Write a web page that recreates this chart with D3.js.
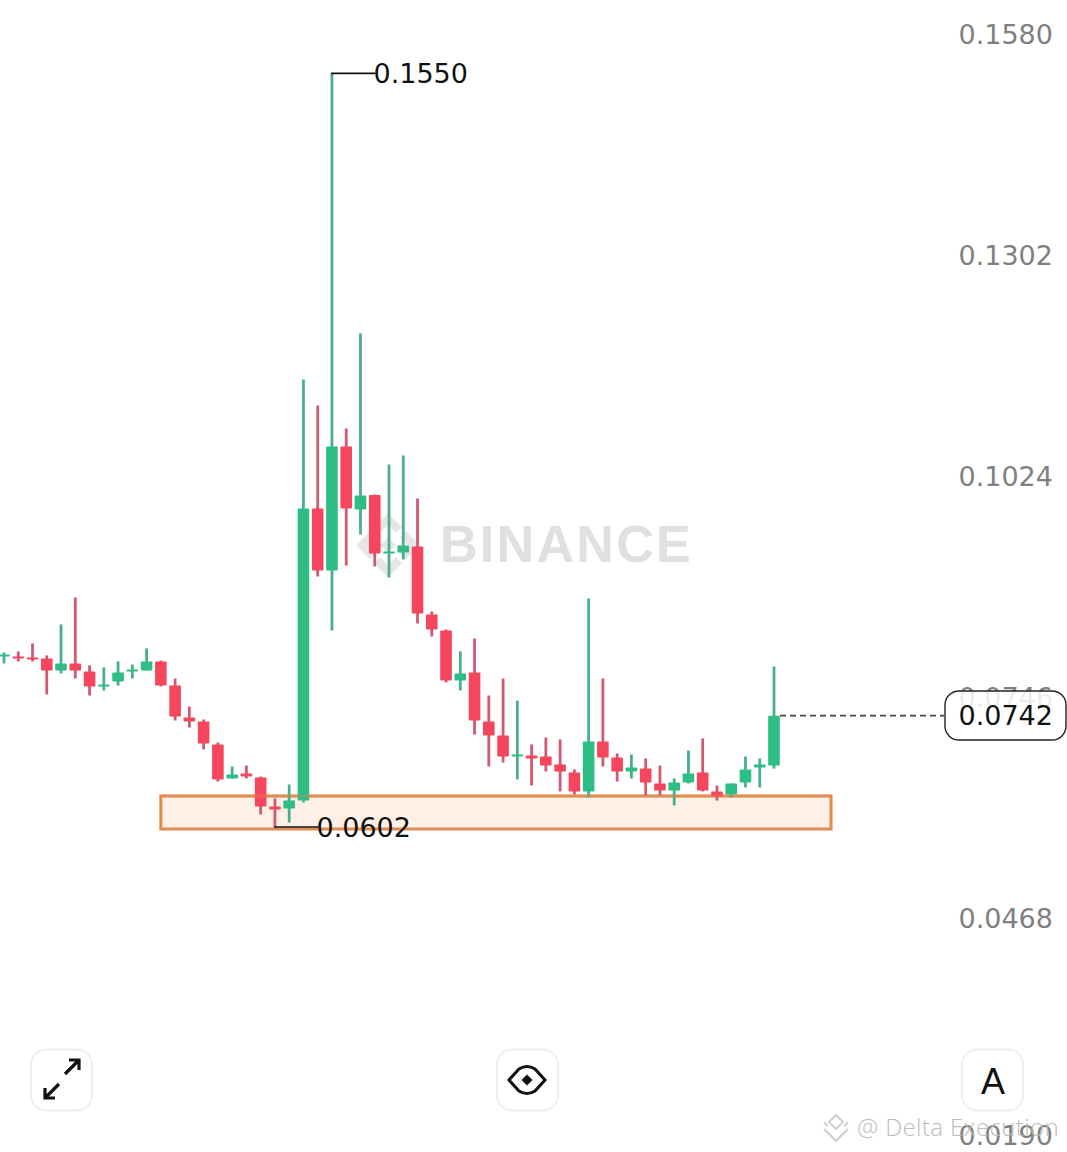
<!DOCTYPE html>
<html><head><meta charset="utf-8">
<script src="https://cdn.jsdelivr.net/npm/d3@7/dist/d3.min.js"></script>
<style>html,body{margin:0;padding:0;background:#fff}svg{display:block}text{font-family:"DejaVu Sans",sans-serif}</style>
</head><body><svg id="c" width="1067" height="1152"></svg>
<script>
const opens=[.08165,.08165,.08152,.08140,.07988,.08077,.07976,.07787,.07850,.07976,.07988,.08102,.07800,.07397,.07347,.07058,.06630,.06693,.06642,.06277,.06252,.06353,.10026,.09246,.10806,.10014,.10196,.09460,.09473,.09548,.08693,.08492,.07863,.07963,.07347,.07171,.06907,.06919,.06907,.06806,.06705,.06467,.07095,.06894,.06718,.06755,.06567,.06479,.06579,.06705,.06467,.06429,.06579,.06768,.06793];
const closes=[.08190,.08140,.08127,.07988,.08077,.07988,.07787,.07812,.07963,.08001,.08102,.07800,.07410,.07347,.07070,.06617,.06680,.06655,.06277,.06240,.06353,.10026,.09246,.10806,.10026,.10190,.09460,.09485,.09561,.08706,.08504,.07863,.07951,.07359,.07171,.06907,.06932,.06882,.06793,.06718,.06467,.07095,.06894,.06718,.06768,.06579,.06479,.06579,.06693,.06479,.06404,.06567,.06743,.06806,.07420];
const highs=[.08215,.08228,.08329,.08178,.08568,.08907,.08052,.08027,.08102,.08064,.08266,.08114,.07888,.07536,.07372,.07083,.06781,.06793,.06655,.06379,.06555,.11649,.11322,.15500,.11033,.12228,.10202,.10580,.10693,.10152,.08731,.08504,.08228,.08391,.07674,.07888,.07611,.07058,.07146,.07121,.06743,.08895,.07888,.06945,.06932,.06882,.06793,.06630,.06982,.07133,.06542,.06567,.06907,.06882,.08039];
const lows=[.08077,.08102,.08102,.07687,.07951,.07888,.07674,.07737,.07800,.07888,.07988,.07787,.07359,.07271,.06995,.06592,.06630,.06630,.06177,.06020,.06077,.06328,.09171,.08492,.09309,.09699,.09297,.09158,.09385,.08580,.08416,.07838,.07737,.07183,.06781,.06831,.06617,.06542,.06718,.06467,.06429,.06391,.06781,.06592,.06630,.06416,.06416,.06290,.06567,.06467,.06353,.06391,.06517,.06517,.06755];
const tickValues=[.1580,.1302,.1024,.0746,.0468,.0190];
const highLabel=.1550, lowLabel=.0602, lastPrice=.0742;
const zoneTop=.06416, zoneBottom=.06001;
const GREEN="#2ebd85",RED="#f6465d",GREENW="#47b08b",REDW="#cf5a72";

const svg=d3.select("#c");
const x=d3.scaleLinear().domain([0,54]).range([4,774]);
const y=d3.scaleLinear().domain([.158,.019]).range([49.5,1154.5]);
const fmt=d3.format(".4f");
const idx=d3.range(opens.length);

// watermark
const wm=svg.append("g");
const lg=wm.append("g").attr("transform","translate(388,545)").attr("fill","#e6e6e6");
lg.append("path").attr("d","M0,-8L8,0L0,8L-8,0Z");
[0,90,180,270].forEach(a=>lg.append("path").attr("transform",`rotate(${a})`)
  .attr("d","M0,-32L14,-18L8,-12L0,-20L-8,-12L-14,-18Z"));
[0,90,180,270].forEach(a=>lg.append("path").attr("transform",`rotate(${a}) translate(25,0)`)
  .attr("d","M0,-6L6,0L0,6L-6,0Z"));
wm.append("text").attr("x",440).attr("y",562).attr("font-size",52).attr("font-weight",700)
  .style("font-family","'Liberation Sans'").attr("letter-spacing",2.3).attr("fill","#e0e0e0").text("BINANCE");

// zone
svg.append("rect").attr("x",x(11)).attr("y",y(zoneTop)+.5).attr("width",x(58)-x(11)).attr("height",y(zoneBottom)-y(zoneTop))
  .attr("fill","#fdf0e6").attr("stroke","#e08b4f").attr("stroke-width",3);

// candles
const g=svg.append("g").selectAll("g").data(idx).join("g");
g.append("line").attr("x1",i=>x(i)).attr("x2",i=>x(i)).attr("y1",i=>y(highs[i])).attr("y2",i=>y(lows[i]))
  .attr("stroke-width",2.8).attr("stroke",i=>closes[i]>=opens[i]?GREENW:REDW);
g.append("rect").attr("x",i=>x(i)-5.8).attr("width",11.6)
  .attr("y",i=>y(Math.max(opens[i],closes[i])))
  .attr("height",i=>Math.max(2,Math.abs(y(opens[i])-y(closes[i]))))
  .attr("rx",.8).attr("fill",i=>closes[i]>=opens[i]?GREEN:RED);
svg.append("line").attr("x1",x(11)).attr("x2",x(58)).attr("y1",y(zoneTop)+.5).attr("y2",y(zoneTop)+.5)
  .attr("stroke","#e08b4f").attr("stroke-width",3).attr("opacity",.35);

// axis
const axis=svg.append("g").attr("transform","translate(958.500,0)")
  .call(d3.axisRight(y).tickValues(tickValues).tickFormat(fmt).tickSize(0).tickPadding(0));
axis.select(".domain").remove();
axis.selectAll("text").attr("y",d=>d===.0190?-19:-14.5).attr("font-size",27).attr("fill","#7f7f7f").style("font-family","'DejaVu Sans'");

// high/low annotations
function note(v,i,tx){
  svg.append("line").attr("x1",x(i)-1).attr("x2",tx+2).attr("y1",y(v)).attr("y2",y(v)).attr("stroke","#111").attr("stroke-width",1.6);
  svg.append("text").attr("x",tx).attr("y",y(v)).attr("dy",".36em").attr("font-size",27).attr("fill","#111").text(fmt(v));
}
note(highLabel,23,373.5);
note(lowLabel,19,316.5);

// last price
svg.append("line").attr("x1",x(54)+6).attr("x2",944).attr("y1",y(lastPrice)).attr("y2",y(lastPrice))
  .attr("stroke","#444").attr("stroke-width",1.8).attr("stroke-dasharray","6 4");
svg.append("rect").attr("x",945).attr("y",691).attr("width",121).attr("height",49).attr("rx",14)
  .attr("fill","#fff").attr("fill-opacity",.85).attr("stroke","#222").attr("stroke-width",1.4);
svg.append("text").attr("x",958.5).attr("y",715).attr("dy",".36em").attr("font-size",27).attr("fill","#111").text(fmt(lastPrice));

// buttons
[[31],[497],[962]].forEach(([bx])=>svg.append("rect").attr("x",bx).attr("y",1049.5).attr("width",61).attr("height",61).attr("rx",15)
  .attr("fill","#fff").attr("stroke","#eeeeee").attr("stroke-width",2));
const ic=svg.append("g").attr("fill","none").attr("stroke","#111").attr("stroke-width",3.2);
ic.append("path").attr("d","M65,1074L79,1060M69,1060H79V1070");
ic.append("path").attr("d","M59,1084L45,1098M45,1088V1098H55");
ic.append("path").attr("stroke-width",3).attr("d","M509,1080L519,1069Q527,1064 535,1069L545,1080L535,1091Q527,1096 519,1091Z");
svg.append("path").attr("d","M527,1074.500L532.500,1080L527,1085.500L521.500,1080Z").attr("fill","#111");
svg.append("text").attr("x",993).attr("y",1094).attr("text-anchor","middle").attr("font-size",36).attr("fill","#111")
  .style("font-family","'Liberation Sans'").text("A");

// credit
const cr=svg.append("g").attr("fill","none").attr("stroke","#cfcfcf").attr("stroke-width",2);
cr.append("path").attr("d","M836,1115L843,1122L836,1129L829,1122Z");
cr.append("path").attr("d","M824,1129L836,1141L848,1129");
cr.append("path").attr("d","M824,1122L828,1126M848,1122L844,1126");
svg.append("text").attr("x",857).attr("y",1136).attr("font-size",24).attr("fill","#bdbdbd")
  .attr("letter-spacing",.37).style("font-family","'Open Sans'").style("font-weight",300).text("@ Delta Execution");
</script></body></html>
